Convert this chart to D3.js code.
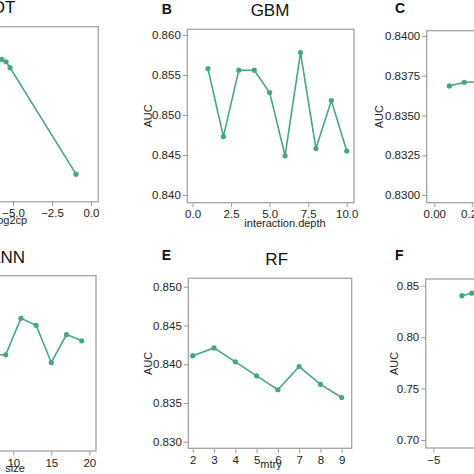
<!DOCTYPE html>
<html>
<head>
<meta charset="UTF-8">
<script src="https://d3js.org/d3.v7.min.js"></script>
<style>
  body { margin: 0; background: #fff; }
  svg { display: block; font-family: "Liberation Sans", Arial, sans-serif; }
  .axis path { display: none; }
  .axis line { stroke: #9a9a9a; }
  .axis text { fill: #222; font-size: 11.5px; }
</style>
</head>
<body>
<svg width="474" height="474"></svg>
<script>
// data
const dtX = [-6.2, -5.72, -5.45, -5.19, -0.96];
const dtAUC = [0.7855, 0.7848, 0.7833, 0.7796, 0.7130];

const gbmX = [1, 2, 3, 4, 5, 6, 7, 8, 9, 10];
const gbmAUC = [0.8558, 0.8473, 0.8556, 0.8556, 0.8528, 0.8449, 0.8578, 0.8458, 0.8518, 0.8455];

const svmX = [0.1, 0.2, 0.3];
const svmAUC = [0.83686, 0.83709, 0.83712];

const nnX = [7, 9, 11, 13, 15, 17, 19];
const nnAUC = [0.8410, 0.8410, 0.8457, 0.8448, 0.8400, 0.8436, 0.8428];

const rfX = [2, 3, 4, 5, 6, 7, 8, 9];
const rfAUC = [0.8411, 0.8421, 0.8403, 0.8385, 0.8367, 0.8397, 0.8374, 0.8357];

const fX = [-3.1, -2.45, -1.8];
const fAUC = [0.8403, 0.8427, 0.8431];

const lineColor = "#46a584";
const svg = d3.select("svg");

// panel layout (figure is cropped, so some boxes start off-screen)
const panels = [
  { letter: "A", title: "DT", titleX: 4, titleY: 13, letterX: -95, letterY: 12,
    box: [-69, 26.7, 167.3, 175], xDom: [-10.26, 0.47], yDom: [0.6958, 0.8052],
    xTicks: [-10, -7.5, -5, -2.5, 0], xFmt: ".1f", yTicks: [0.70, 0.725, 0.75, 0.775, 0.80], yFmt: ".3f",
    xLabel: "log2cp", xLabelX: 11, xLabelY: 224, yLabelX: -100, x: dtX, y: dtAUC },
  { letter: "B", title: "GBM", titleX: 270, titleY: 16, letterX: 161.7, letterY: 14,
    box: [187.3, 29.3, 166.7, 173.4], xDom: [-0.34, 10.47], yDom: [0.83904, 0.86071],
    xTicks: [0, 2.5, 5, 7.5, 10], xFmt: ".1f", yTicks: [0.840, 0.845, 0.850, 0.855, 0.860], yFmt: ".3f",
    xLabel: "interaction.depth", xLabelX: 285, xLabelY: 227, yLabelX: 148, x: gbmX, y: gbmAUC },
  { letter: "C", title: null, titleX: 510, titleY: 16, letterX: 395, letterY: 13.3,
    box: [426.7, 30.7, 167, 172], xDom: [-0.0507, 1.063], yDom: [0.82952, 0.84033],
    xTicks: [0, 0.25, 0.5, 0.75, 1], xFmt: ".2f", yTicks: [0.830, 0.8325, 0.835, 0.8375, 0.840], yFmt: ".4f",
    xLabel: null, xLabelX: 510, xLabelY: 227, yLabelX: 379, x: svmX, y: svmAUC },
  { letter: "D", title: "ANN", titleX: 7, titleY: 263, letterX: -95, letterY: 258,
    box: [-71, 275.7, 167, 175.3], xDom: [-1.09, 20.88], yDom: [0.82858, 0.8512],
    xTicks: [0, 5, 10, 15, 20], xFmt: "d", yTicks: [0.830, 0.835, 0.840, 0.845, 0.850], yFmt: ".3f",
    xLabel: "size", xLabelX: 15, xLabelY: 472, yLabelX: -100, x: nnX, y: nnAUC },
  { letter: "E", title: "RF", titleX: 276.7, titleY: 265, letterX: 161.7, letterY: 260,
    box: [188.3, 278.3, 163.4, 170], xDom: [1.79, 9.47], yDom: [0.829148, 0.851084],
    xTicks: [2, 3, 4, 5, 6, 7, 8, 9], xFmt: "d", yTicks: [0.830, 0.835, 0.840, 0.845, 0.850], yFmt: ".3f",
    xLabel: "mtry", xLabelX: 271, xLabelY: 468, yLabelX: 148, x: rfX, y: rfAUC },
  { letter: "F", title: null, titleX: 510, titleY: 265, letterX: 395, letterY: 260,
    box: [425.7, 279, 167, 169], xDom: [-5.51, 5.6], yDom: [0.69222, 0.85651],
    xTicks: [-5, 0, 5], xFmt: "d", yTicks: [0.70, 0.75, 0.80, 0.85], yFmt: ".2f",
    xLabel: null, xLabelX: 510, xLabelY: 468, yLabelX: 394, x: fX, y: fAUC }
];

panels.forEach(p => {
  const [bx, by, bw, bh] = p.box;
  const x = d3.scaleLinear().domain(p.xDom).range([bx, bx + bw]);
  const y = d3.scaleLinear().domain(p.yDom).range([by + bh, by]);
  const g = svg.append("g");

  // clip so the lines stay in the box
  const clipId = "clip-" + p.letter;
  svg.append("clipPath").attr("id", clipId)
    .append("rect").attr("x", bx).attr("y", by).attr("width", bw).attr("height", bh);

  g.append("g").attr("class", "axis")
    .attr("transform", `translate(0,${by + bh + 0.5})`)
    .call(d3.axisBottom(x).tickValues(p.xTicks).tickSize(4).tickPadding(3)
      .tickFormat(d => d3.format(p.xFmt)(d).replace("-", "\u2212")));

  g.append("g").attr("class", "axis")
    .attr("transform", `translate(${bx - 0.5},0)`)
    .call(d3.axisLeft(y).tickValues(p.yTicks).tickSize(4).tickPadding(2)
      .tickFormat(d => d3.format(p.yFmt)(d)));

  g.append("rect")
    .attr("x", bx).attr("y", by).attr("width", bw).attr("height", bh)
    .attr("fill", "none").attr("stroke", "#a3a3a3").attr("stroke-width", 1.3);

  const pts = p.x.map((v, i) => [v, p.y[i]]);
  const plot = g.append("g").attr("clip-path", `url(#${clipId})`);
  plot.append("path")
    .datum(pts)
    .attr("fill", "none")
    .attr("stroke", lineColor)
    .attr("stroke-width", 1.6)
    .attr("d", d3.line().x(d => x(d[0])).y(d => y(d[1])));
  plot.selectAll("circle")
    .data(pts)
    .enter().append("circle")
    .attr("cx", d => x(d[0]))
    .attr("cy", d => y(d[1]))
    .attr("r", 2.6)
    .attr("fill", lineColor);

  if (p.title) {
    g.append("text").attr("x", p.titleX).attr("y", p.titleY)
      .attr("text-anchor", "middle").attr("font-size", 17).attr("fill", "#111")
      .text(p.title);
  }
  g.append("text").attr("x", p.letterX).attr("y", p.letterY)
    .attr("font-size", 14).attr("font-weight", "bold").attr("fill", "#111")
    .text(p.letter);

  if (p.xLabel) {
    g.append("text").attr("x", p.xLabelX).attr("y", p.xLabelY)
      .attr("text-anchor", "middle").attr("font-size", 11).attr("fill", "#222")
      .text(p.xLabel);
  }
  const cy = by + bh / 2;
  g.append("text")
    .attr("transform", `translate(${p.yLabelX + 4},${cy}) rotate(-90)`)
    .attr("text-anchor", "middle").attr("font-size", 11).attr("fill", "#222")
    .text("AUC");
});
</script>
</body>
</html>
